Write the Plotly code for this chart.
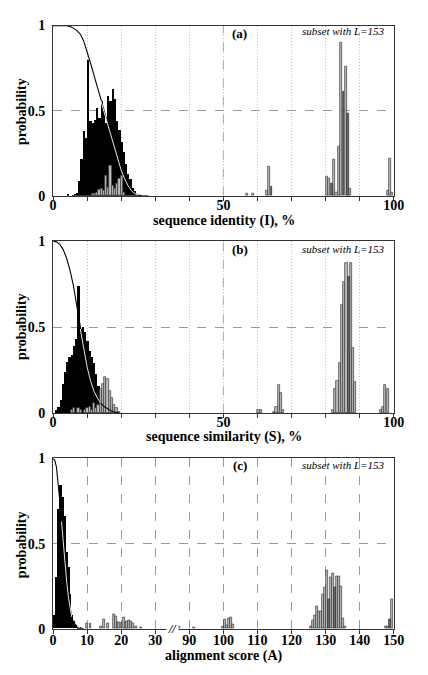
import numpy as np
import plotly.graph_objects as go

# ---------------- data ----------------
# panel (a): sequence identity
a_black_x = [4.46, 5.77, 6.43, 7.08, 7.73, 8.39, 9.04, 9.70, 10.35, 11.00, 11.66, 12.31, 12.97, 13.62,
             14.27, 14.93, 15.58, 16.24, 16.89, 17.54, 18.20, 18.85, 19.50, 20.16, 20.81, 21.47, 22.12,
             22.77, 23.43, 24.08, 24.74, 25.39]
a_black_p = [0.013, 0.005, 0.01, 0.02, 0.09, 0.22, 0.38, 0.34, 0.80, 0.44, 0.43, 0.45, 0.52, 0.46,
             0.56, 0.50, 0.43, 0.59, 0.56, 0.63, 0.57, 0.44, 0.39, 0.32, 0.26, 0.19, 0.13,
             0.10, 0.05, 0.03, 0.013, 0.005]
a_gray_x = [11.66, 12.31, 12.97, 13.62, 14.27, 14.93, 15.58, 16.24, 16.89, 17.54, 18.20, 18.85, 19.50,
            20.16, 20.81, 57.0, 58.7, 62.8, 63.4, 80.4, 81.1, 82.5, 83.2, 83.9, 84.6, 86.0, 87.1,
            98.2, 98.8, 99.4]
a_gray_p = [0.01, 0.015, 0.02, 0.035, 0.04, 0.03, 0.12, 0.05, 0.18, 0.06, 0.04, 0.07, 0.10,
            0.12, 0.02, 0.015, 0.015, 0.03, 0.17, 0.115, 0.10, 0.21, 0.02, 0.29, 0.90, 0.76, 0.04,
            0.03, 0.22, 0.02]
a_dark_x = [64.1, 81.8, 85.3, 86.6]
a_dark_p = [0.055, 0.07, 0.61, 0.48]
a_curve_x = [0, 2, 4, 5, 6, 7, 8, 9, 10, 11, 12, 13, 14, 15, 16, 17, 18, 19, 20, 21, 22, 23, 24, 25, 26, 28]
a_curve_p = [1, 1, 0.999, 0.995, 0.985, 0.97, 0.95, 0.91, 0.85, 0.78, 0.71, 0.64, 0.56, 0.49, 0.42,
             0.35, 0.28, 0.21, 0.15, 0.10, 0.06, 0.03, 0.012, 0.004, 0.001, 0]

# panel (b): sequence similarity
b_black_x = [0.94, 1.59, 2.25, 2.90, 3.56, 4.21, 4.86, 5.52, 6.17, 6.83, 7.48, 8.13, 8.79, 9.44,
             10.10, 10.75, 11.40, 12.06, 12.71, 13.37, 14.02, 14.67, 15.33, 15.98, 16.64, 17.29]
b_black_p = [0.02, 0.04, 0.08, 0.17, 0.24, 0.30, 0.33, 0.34, 0.39, 0.43, 0.74, 0.49, 0.50, 0.47,
             0.42, 0.36, 0.33, 0.29, 0.23, 0.16, 0.13, 0.09, 0.06, 0.04, 0.02, 0.01]
b_gray_x = [5.52, 6.17, 7.48, 8.13, 9.44, 10.10, 10.75, 11.40, 12.06, 12.71, 13.37, 14.02, 14.67,
            15.33, 15.98, 16.64, 17.29, 17.94, 18.60, 19.25, 60.3, 61.0, 64.9, 65.6, 66.3, 67.0,
            67.6, 82.2, 82.9, 83.5, 84.2, 84.8, 85.5, 86.1, 87.4, 88.1, 88.7, 96.3, 96.9, 97.5, 98.2]
b_gray_p = [0.02, 0.03, 0.03, 0.02, 0.02, 0.03, 0.04, 0.02, 0.06, 0.03, 0.05, 0.14, 0.17,
            0.21, 0.20, 0.13, 0.09, 0.05, 0.03, 0.01, 0.02, 0.02, 0.01, 0.04, 0.165, 0.12,
            0.02, 0.02, 0.14, 0.19, 0.29, 0.63, 0.76, 0.87, 0.87, 0.38, 0.18, 0.02, 0.04, 0.165, 0.14]
b_dark_x = [86.8]
b_dark_p = [0.79]
b_curve_x = [0, 1, 2, 3, 4, 5, 6, 7, 8, 9, 10, 11, 12, 13, 14, 15, 16, 17, 18, 19, 20]
b_curve_p = [1, 0.995, 0.98, 0.95, 0.90, 0.83, 0.74, 0.62, 0.49, 0.37, 0.27, 0.19, 0.13, 0.09,
             0.06, 0.04, 0.025, 0.015, 0.008, 0.003, 0]

# panel (c): alignment score (broken axis 30 // 90)
c_black_x = [0.5, 1.1, 1.7, 2.3, 2.8, 3.4, 4.0, 4.6, 5.1, 5.7, 6.3, 6.8, 7.4, 8.0]
c_black_p = [0.08, 0.30, 0.70, 0.84, 0.77, 0.66, 0.45, 0.36, 0.20, 0.08, 0.045, 0.02, 0.01, 0.005]
c_gray_x = [9.9, 11.0, 14.1, 14.9, 16.1, 17.8, 18.4, 19.0, 19.5, 20.1, 20.7, 21.3, 21.8, 22.4, 23.0,
            23.6, 24.4, 25.8, 86.9, 91.3, 99.8, 100.4, 101.0, 101.6, 102.2, 102.8, 125.7, 126.2,
            126.8, 127.4, 128.0, 128.6, 129.2, 129.8, 130.4, 131.5, 132.1, 133.3, 133.9, 134.6,
            135.2, 135.8, 147.7, 148.3, 149.6]
c_gray_p = [0.03, 0.03, 0.015, 0.055, 0.03, 0.085, 0.075, 0.04, 0.04, 0.035, 0.07, 0.04, 0.045, 0.05,
            0.045, 0.03, 0.015, 0.01, 0.015, 0.01, 0.015, 0.055, 0.02, 0.06, 0.065, 0.025, 0.015,
            0.05, 0.08, 0.13, 0.10, 0.10, 0.20, 0.245, 0.34, 0.30, 0.325, 0.305, 0.31, 0.25,
            0.06, 0.015, 0.015, 0.015, 0.17]
c_dark_x = [131.0, 132.7, 148.9]
c_dark_p = [0.17, 0.245, 0.055]
c_curve_x = [0, 0.5, 1, 1.5, 2, 2.5, 3, 3.5, 4, 4.5, 5, 5.5, 6, 7, 8, 9]
c_curve_p = [1, 0.99, 0.95, 0.86, 0.75, 0.63, 0.50, 0.38, 0.28, 0.19, 0.12, 0.07, 0.04, 0.015, 0.005, 0]
c_tick_vals = [0, 10, 20, 30, 90, 100, 110, 120, 130, 140, 150]

y_ticks = [0, 0.5, 1]
y_tick_text = ['0', '0.5', '1']
ab_ticks = [0, 10, 20, 30, 40, 50, 60, 70, 80, 90, 100]
ab_tick_text = ['0', '', '', '', '', '50', '', '', '', '', '100']

# ---------------- helpers ----------------
FONT = "Liberation Serif"
W_ID = 0.654   # bin width (1/153 of 100%)
W_C = 0.57


def brk(v):
    # broken axis for panel (c): 0-30 as is, 90-150 shifted left by 50
    return [x if x <= 60 else x - 50 for x in v]


def white_part(cx, cp, bx, bp, w):
    out = []
    for x, p in zip(cx, cp):
        keep = None
        for b, h in zip(bx, bp):
            if abs(x - b) <= w / 2 + 1e-9 and p <= h:
                keep = p
        out.append(keep)
    return out


fig = go.Figure()

panels = [
    dict(ax='', bx=a_black_x, bp=a_black_p, gx=a_gray_x, gp=a_gray_p, dx=a_dark_x, dp=a_dark_p,
         cx=a_curve_x, cp=a_curve_p, w=W_ID, tf=lambda v: list(v)),
    dict(ax='2', bx=b_black_x, bp=b_black_p, gx=b_gray_x, gp=b_gray_p, dx=b_dark_x, dp=b_dark_p,
         cx=b_curve_x, cp=b_curve_p, w=W_ID, tf=lambda v: list(v)),
    dict(ax='3', bx=c_black_x, bp=c_black_p, gx=c_gray_x, gp=c_gray_p, dx=c_dark_x, dp=c_dark_p,
         cx=c_curve_x, cp=c_curve_p, w=W_C, tf=brk),
]

for pn in panels:
    xa, ya = 'x' + pn['ax'], 'y' + pn['ax']
    tf = pn['tf']
    fig.add_trace(go.Bar(x=tf(pn['bx']), y=pn['bp'], width=pn['w'], marker=dict(color='black', line=dict(width=0)),
                         xaxis=xa, yaxis=ya, showlegend=False))
    fig.add_trace(go.Bar(x=tf(pn['gx']), y=pn['gp'], width=pn['w'],
                         marker=dict(color='#bdbdbd', line=dict(color='#3a3a3a', width=0.7)),
                         xaxis=xa, yaxis=ya, showlegend=False))
    fig.add_trace(go.Bar(x=tf(pn['dx']), y=pn['dp'], width=pn['w'] * 0.7,
                         marker=dict(color='#6e6e6e', line=dict(color='#2a2a2a', width=0.7)),
                         xaxis=xa, yaxis=ya, showlegend=False))
    fig.add_trace(go.Scatter(x=tf(pn['cx']), y=pn['cp'], mode='lines', line=dict(color='black', width=1.1),
                             xaxis=xa, yaxis=ya, showlegend=False, cliponaxis=False))
    wp = white_part(pn['cx'], pn['cp'], pn['bx'], pn['bp'], pn['w'])
    fig.add_trace(go.Scatter(x=tf(pn['cx']), y=wp, mode='lines', line=dict(color='white', width=0.9),
                             connectgaps=False, xaxis=xa, yaxis=ya, showlegend=False))

x_dom = [51.7 / 428, 404 / 428]
y_doms = [[1 - 193 / 675, 1 - 19 / 675], [1 - 415.7 / 675, 1 - 239.3 / 675], [1 - 636 / 675, 1 - 461.7 / 675]]

tickfont = dict(family=FONT, size=14, color='black', weight='bold')
axis_common = dict(showline=True, mirror=True, linecolor='#333', linewidth=1, zeroline=False,
                   tickfont=tickfont)

layout = dict(width=428, height=675, margin=dict(l=0, r=0, t=0, b=0), barmode='overlay', bargap=0,
              plot_bgcolor='white', paper_bgcolor='white', font=dict(family=FONT, color='black'))

for i, ax in enumerate(['', '2', '3']):
    if ax == '3':
        xa = dict(domain=x_dom, range=[0, 100], tickmode='array', tickvals=brk(c_tick_vals),
                  ticktext=[str(v) for v in c_tick_vals], ticks='outside', ticklen=4, tickcolor='#333',
                  showgrid=True, gridcolor='#9a9a9a', griddash='dash', gridwidth=1,
                  ticklabelstandoff=-6, anchor='y3', **axis_common)
    else:
        xa = dict(domain=x_dom, range=[0, 100], tickmode='array', tickvals=ab_ticks, ticktext=ab_tick_text,
                  ticks='outside', ticklen=4, tickcolor='#333', showgrid=True, gridcolor='#c4c4c4',
                  griddash='1px,2px', gridwidth=1, ticklabelstandoff=-8, anchor='y' + ax, **axis_common)
    ya = dict(domain=y_doms[i], range=[0, 1], tickmode='array', tickvals=y_ticks, ticktext=y_tick_text,
              ticks='', showgrid=True, gridcolor='#9a9a9a', griddash='dash', gridwidth=1,
              anchor='x' + ax, ticklabelstandoff=4, **axis_common)
    layout['xaxis' + ax] = xa
    layout['yaxis' + ax] = ya

fig.update_layout(**layout)

# dashed vertical at 50 for panels a, b
for ax in ['', '2']:
    fig.add_shape(type='line', x0=50, x1=50, y0=0, y1=1, xref='x' + ax, yref='y' + ax + ' domain',
                  line=dict(color='#a0a0a0', width=1, dash='dash'), layer='below')

ann = []
titles = [('sequence identity (I), %', 1 - 219 / 675), ('sequence similarity (S), %', 1 - 440 / 675),
          ('alignment score (A)', 1 - 664 / 675)]
for t, y in titles:
    ann.append(dict(text='<b>' + t + '</b>', x=228 / 428, y=y, xref='paper', yref='paper', showarrow=False,
                    font=dict(family=FONT, size=14, color='black'), xanchor='center', yanchor='middle'))
for yc in [107, 327, 550]:
    ann.append(dict(text='<b>probability</b>', x=19 / 428, y=1 - yc / 675, xref='paper', yref='paper',
                    showarrow=False, textangle=-90, font=dict(family=FONT, size=14, color='black'),
                    xanchor='center', yanchor='middle'))
for lab, ly, sy in [('(a)', 27, 25), ('(b)', 248, 247), ('(c)', 469, 468)]:
    ann.append(dict(text='<b>' + lab + '</b>', x=245 / 428, y=1 - ly / 675, xref='paper', yref='paper',
                    showarrow=False, font=dict(family=FONT, size=13, color='black'),
                    xanchor='center', yanchor='middle'))
    ann.append(dict(text='<i>subset with L=153</i>', x=351 / 428, y=1 - sy / 675, xref='paper', yref='paper',
                    showarrow=False, font=dict(family=FONT, size=11, color='black'),
                    xanchor='center', yanchor='middle'))
ann.append(dict(text='<b><i>//</i></b>', x=35, y=0, xref='x3', yref='y3', showarrow=False,
                font=dict(family=FONT, size=12, color='black'), xanchor='center', yanchor='middle',
                bgcolor='white'))
fig.update_layout(annotations=ann)

fig.write_html("out.html")
